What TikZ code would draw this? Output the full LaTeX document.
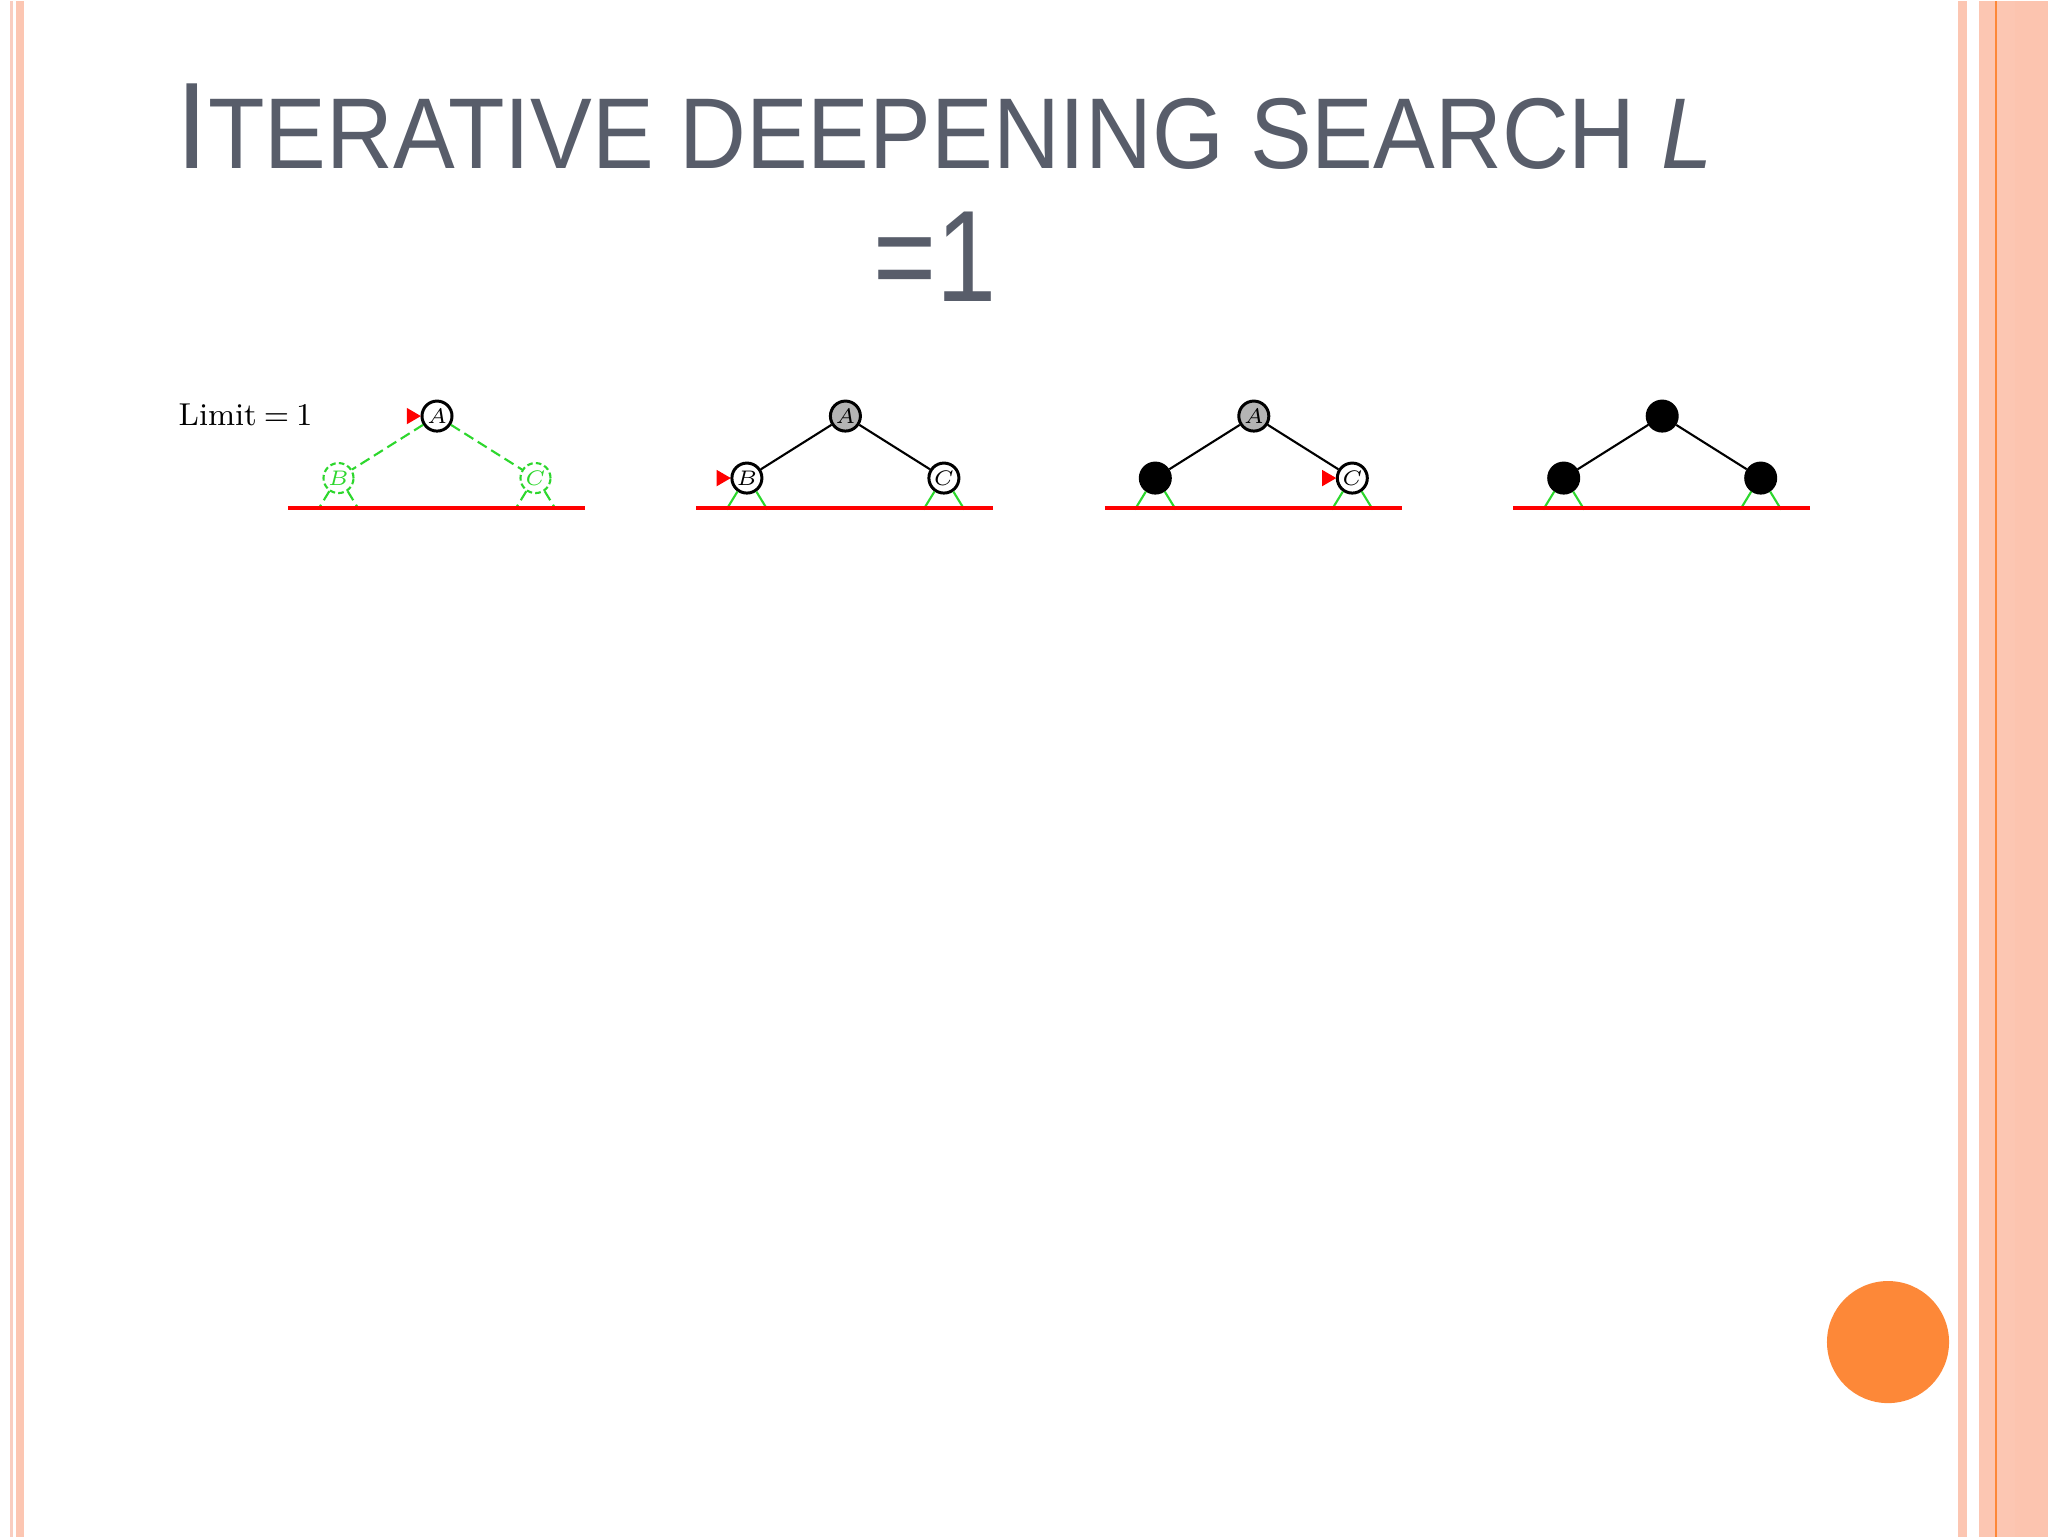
\documentclass[tikz,border=0pt]{standalone}
\usepackage{fontspec}
\usepackage{graphicx}
\newfontfamily\titlefont{Liberation Sans}
\definecolor{titlegrey}{RGB}{88,93,106}
\definecolor{idsgreen}{RGB}{45,215,45}
\definecolor{lightgrey}{RGB}{180,180,180}
\definecolor{stripepink}{RGB}{249,205,192}
\definecolor{stripesalmon}{RGB}{252,198,178}
\definecolor{stripedark}{RGB}{252,196,175}
\definecolor{dotorange}{RGB}{253,136,56}
\newcommand\frontier[1]{\filldraw[red,line width=0.4pt]
    ([shift={(-13,-7)}]#1.west)
    --
    ([shift={(-13,7)}]#1.west)
    --
    ([shift={(-1,0)}]#1.west)
    -- cycle;}
\begin{document}
\begin{tikzpicture}[x=0.01cm,y=-0.01cm,
  knot/.style={circle,draw,line width=0.85pt,minimum size=0.3cm,inner sep=0pt,
    font=\fontsize{6}{7}\selectfont},
  open/.style={knot,fill=white},
  seen/.style={knot,fill=lightgrey},
  done/.style={knot,fill=black},
  fresh/.style={knot,draw=idsgreen,text=idsgreen,line width=0.6pt,
    dash pattern=on 1.6pt off 0.9pt},
  edge/.style={line width=0.6pt},
  ghost/.style={idsgreen,line width=0.6pt,dash pattern=on 3pt off 1.5pt},
  stub/.style={idsgreen,line width=0.6pt},
  cutoff/.style={red,line width=1.2pt}]
  % page and border stripes
  \fill[white]
    (0,0)
    rectangle
    (2048,1536);
  \fill[stripepink]
    (10,0)
    rectangle
    (13,1536);
  \fill[stripesalmon]
    (16,0)
    rectangle
    (24,1536);
  \fill[stripesalmon]
    (1958,0)
    rectangle
    (1967,1536);
  \fill[stripesalmon]
    (1979,0)
    rectangle
    (2015,1536);
  \fill[stripedark]
    (2015,0)
    rectangle
    (2048,1536);
  \draw[dotorange,line width=0.6pt]
    (1996,0)
    --
    (1996,1536);
  % title
  \node[anchor=base west,text=titlegrey,inner sep=0pt] (title)
    at (176,167)
    {\titlefont\scalebox{0.92}[1]{\fontsize{35}{40}\selectfont I\fontsize{28.6}{32}\selectfont TERATIVE DEEPENING SEARCH \textit{L}}};
  \node[anchor=base,text=titlegrey,inner sep=0pt] (limit)
    at (935,300)
    {\titlefont\scalebox{0.83}[1]{\fontsize{37}{40}\selectfont =1}};
  \node[anchor=base west,inner sep=0pt] (label)
    at (178,424)
    {\fontsize{9}{11}\selectfont Limit\hspace{0.22em}=\hspace{0.22em}1};
  % tree 1
  \node[open] (a1) at (437,415) {$A$};
  \node[fresh] (b1) at (338.5,477) {$B$};
  \node[fresh] (c1) at (535.5,477) {$C$};
  \draw[ghost]
    (a1)
    --
    (b1);
  \draw[ghost]
    (a1)
    --
    (c1);
  \draw[ghost] (b1.235) -- +(-11,18);
  \draw[ghost] (b1.305) -- +(11,18);
  \draw[ghost] (c1.235) -- +(-11,18);
  \draw[ghost] (c1.305) -- +(11,18);
  \draw[cutoff]
    (288,507)
    --
    (585,507);
  \frontier{a1}
  % tree 2
  \node[seen] (a2) at (845.4,415) {$A$};
  \node[open] (b2) at (746.9,477) {$B$};
  \node[open] (c2) at (943.9,477) {$C$};
  \draw[edge]
    (a2)
    --
    (b2);
  \draw[edge]
    (a2)
    --
    (c2);
  \draw[stub] (b2.235) -- +(-11,18);
  \draw[stub] (b2.305) -- +(11,18);
  \draw[stub] (c2.235) -- +(-11,18);
  \draw[stub] (c2.305) -- +(11,18);
  \draw[cutoff]
    (696.4,507)
    --
    (993.4,507);
  \frontier{b2}
  % tree 3
  \node[seen] (a3) at (1253.8,415) {$A$};
  \node[done] (b3) at (1155.3,477) {};
  \node[open] (c3) at (1352.3,477) {$C$};
  \draw[edge]
    (a3)
    --
    (b3);
  \draw[edge]
    (a3)
    --
    (c3);
  \draw[stub] (b3.235) -- +(-11,18);
  \draw[stub] (b3.305) -- +(11,18);
  \draw[stub] (c3.235) -- +(-11,18);
  \draw[stub] (c3.305) -- +(11,18);
  \draw[cutoff]
    (1104.8,507)
    --
    (1401.8,507);
  \frontier{c3}
  % tree 4
  \node[done] (a4) at (1662.2,415) {};
  \node[done] (b4) at (1563.7,477) {};
  \node[done] (c4) at (1760.7,477) {};
  \draw[edge]
    (a4)
    --
    (b4);
  \draw[edge]
    (a4)
    --
    (c4);
  \draw[stub] (b4.235) -- +(-11,18);
  \draw[stub] (b4.305) -- +(11,18);
  \draw[stub] (c4.235) -- +(-11,18);
  \draw[stub] (c4.305) -- +(11,18);
  \draw[cutoff]
    (1513.2,507)
    --
    (1810.2,507);
  % slide dot
  \fill[dotorange]
    (1888,1341)
    circle (0.61cm);
\end{tikzpicture}
\end{document}
